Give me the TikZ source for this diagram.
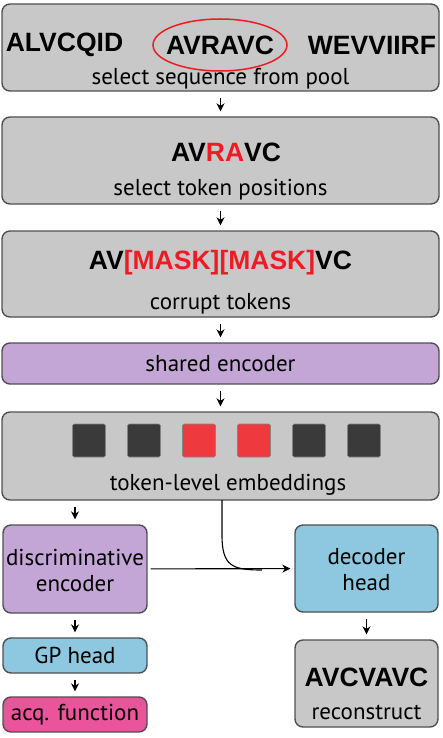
\documentclass[tikz,border=0pt]{standalone}
\usepackage{fontspec}
\setmainfont{PT Sans}
\newfontfamily\seqfont{Liberation Sans}
\usetikzlibrary{arrows.meta}
\definecolor{boxgray}{HTML}{C8C8C8}
\definecolor{edgegray}{HTML}{505050}
\definecolor{encpurple}{HTML}{C3A6D6}
\definecolor{headblue}{HTML}{8DC8E0}
\definecolor{acqpink}{HTML}{E9549B}
\definecolor{maskred}{HTML}{ED1C24}
\definecolor{embred}{HTML}{EE3A3F}
\definecolor{embdark}{HTML}{3A3A3A}
\tikzset{
  stage/.style={draw=edgegray, line width=1.4pt, rounded corners=8pt, fill=boxgray, inner sep=0pt},
  caption/.style={font=\fontsize{23}{26}\selectfont, inner sep=0pt},
  seq/.style={font=\seqfont\bfseries\fontsize{26.5}{29}\selectfont, inner sep=0pt},
  emb/.style={draw=edgegray!70, line width=0.6pt, rounded corners=1.5pt, minimum size=33pt, inner sep=0pt},
  arr/.style={-{Stealth[length=8pt,width=8pt]}, line width=1.1pt, shorten <=6pt, shorten >=5pt},
}
\begin{document}
\begin{tikzpicture}[x=1pt,y=-1pt]
    \useasboundingbox (0,0) rectangle (443,738);
    % main column
    \node[stage, minimum width=437pt, minimum height=87pt] (pool) at (220.5,47.5) {};
    \node[stage, minimum width=437pt, minimum height=87pt] (pick) at (220.5,160.5) {};
    \node[stage, minimum width=437pt, minimum height=86pt] (corrupt) at (220.5,274) {};
    \node[stage, fill=encpurple, minimum width=437pt, minimum height=41pt] (shared) at (220.5,363.5) {};
    \node[stage, minimum width=437pt, minimum height=88pt] (embed) at (220.5,456) {};
    % lower branches
    \node[stage, fill=encpurple, minimum width=144pt, minimum height=88pt] (disc) at (75,569) {};
    \node[stage, fill=headblue, minimum width=144pt, minimum height=35pt] (gp) at (75,655.5) {};
    \node[stage, fill=acqpink, minimum width=144pt, minimum height=35pt] (acq) at (75,714.5) {};
    \node[stage, fill=headblue, minimum width=143pt, minimum height=87pt] (dec) at (366.5,568.5) {};
    \node[stage, minimum width=143pt, minimum height=87pt] (recon) at (366.5,683.5) {};
    % texts
    \node[seq] (s1) at (64.5,45) {ALVCQID};
    \node[seq] (s2) at (220,45) {AVRAVC};
    \node[seq] (s3) at (372,45) {WEVVIIRF};
    \draw[maskred, line width=1.5pt] (s2) ellipse [x radius=67pt, y radius=26pt];
    \node[caption] (poolcap) at (220.5,79) {select sequence from pool};
    \node[seq] (picked) at (226,152) {AV\textcolor{maskred}{RA}VC};
    \node[caption] (pickcap) at (220.5,190) {select token positions};
    \node[seq] (masked) at (220.5,263) {AV\textcolor{maskred}{[MASK][MASK]}VC};
    \node[caption] (corruptcap) at (220.5,304) {corrupt tokens};
    \node[caption] (sharedcap) at (220.5,364) {shared encoder};
    \foreach \i/\c in {0/embdark,1/embdark,2/embred,3/embred,4/embdark,5/embdark}
        \node[emb, fill=\c] (e\i) at (89+55*\i,440.5) {};
    \node[caption] (embedcap) at (228,485) {token-level embeddings};
    \node[caption, align=center] (disccap) at (75,570) {discriminative\\encoder};
    \node[caption] (gpcap) at (75,655.5) {GP head};
    \node[caption] (acqcap) at (75,714.5) {acq. function};
    \node[caption, align=center] (deccap) at (366.5,570) {decoder\\head};
    \node[seq] (recseq) at (366.5,677) {AVCVAVC};
    \node[caption] (reccap) at (366.5,712) {reconstruct};
    % arrows
    \draw[arr] (pool) -- (pick);
    \draw[arr] (pick) -- (corrupt);
    \draw[arr] (corrupt) -- (shared);
    \draw[arr] (shared) -- (embed);
    \draw[arr] (embed.south -| disc.north) -- (disc);
    \draw[arr] (disc) -- (gp);
    \draw[arr] (gp) -- (acq);
    \draw[arr] (dec) -- (recon);
    \draw[arr, shorten <=3pt, shorten >=4pt] (disc) -- (dec);
    \coordinate (tap) at (222,500);
    \coordinate (merge) at (262,570);
    \draw[line width=1.1pt] (tap) -- (222,535) .. controls (222,566) and (232,570) .. (merge);
\end{tikzpicture}
\end{document}
